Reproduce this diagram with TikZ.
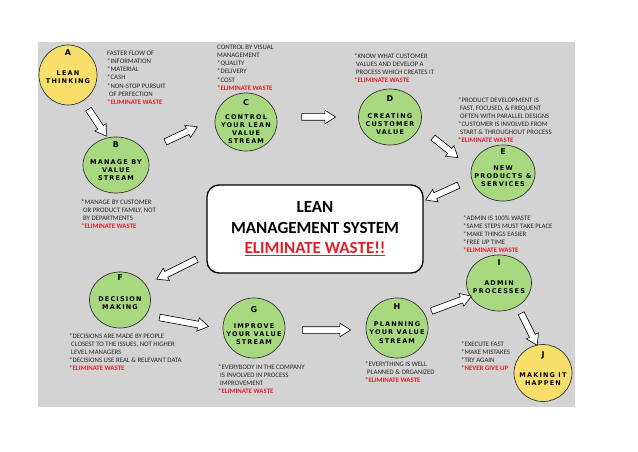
\documentclass[tikz,border=0pt]{standalone}
\usepackage{fontspec}
\setmainfont{Carlito}
\newfontfamily\ballfont[LetterSpace=18]{DejaVu Sans}
\usetikzlibrary{shapes.geometric,shapes.arrows,calc}

\definecolor{bggray}{HTML}{D3D3D3}
\definecolor{ballgreen}{HTML}{A8D880}
\definecolor{ballyellow}{HTML}{F8DF6C}
\definecolor{wastered}{HTML}{E3202A}

\newcommand{\waste}{\textcolor{wastered}{\bfseries *ELIMINATE WASTE}}
\newcommand{\ind}{\hspace*{2pt}}

\tikzset{
  ball/.style={ellipse, draw=black!80, line width=0.7pt, minimum width=62pt, minimum height=58pt, inner sep=0pt},
  greenball/.style={ball, fill=ballgreen},
  yellowball/.style={ball, fill=ballyellow},
  balletter/.style={font=\ballfont\bfseries\fontsize{8}{8}\selectfont, inner sep=0pt},
  balltext/.style={font=\ballfont\bfseries\fontsize{6.5}{8.2}\selectfont, align=center, inner sep=0pt},
  notes/.style={font=\fontsize{6.8}{8.1}\selectfont, align=left, anchor=north west, inner sep=0pt, text=black!85},
  blockarrow/.style={single arrow, draw=black, fill=white, line width=0.6pt, text height=6pt, text depth=0pt,
    single arrow head extend=3.5pt, single arrow tip angle=65, single arrow head indent=0pt, inner sep=0pt}
}

\begin{document}
\begin{tikzpicture}[x=1pt, y=-1pt]
  \useasboundingbox (0,0) rectangle (638,452);
  \fill[bggray] (38,42) rectangle (575,407);

  % centre box
  \node[draw, line width=1.3pt, rounded corners=12pt, fill=white, minimum width=216pt, minimum height=88pt,
    align=center, font=\bfseries\fontsize{17}{20.5}\selectfont] (lms) at (315,229)
    {LEAN\\MANAGEMENT SYSTEM\\\textcolor{wastered}{\underline{ELIMINATE WASTE!!}}};

  % the ten balls
  \node[yellowball, minimum width=58pt, minimum height=60pt] (A) at (68,75) {};
  \node[greenball, minimum width=66pt, minimum height=56pt] (B) at (116,165) {};
  \node[greenball] (C) at (246,122) {};
  \node[greenball, minimum width=63pt, minimum height=56pt] (D) at (390,117) {};
  \node[greenball, minimum width=64pt, minimum height=56pt] (E) at (503,173) {};
  \node[greenball, minimum width=61pt, minimum height=56pt] (F) at (120,300) {};
  \node[greenball, minimum height=60pt] (G) at (254,328) {};
  \node[greenball, minimum height=60pt] (H) at (397,328) {};
  \node[greenball, minimum width=65pt, minimum height=56pt] (I) at (499,283) {};
  \node[yellowball, minimum width=58pt, minimum height=57pt] (J) at (543,373) {};

  \node[balletter] (Al) at (68,53) {A};
  \node[balltext] (At) at (68,77.5) {LEAN\\THINKING};
  \node[balletter] (Bl) at (116,145) {B};
  \node[balltext] (Bt) at (116,170) {MANAGE BY\\VALUE\\STREAM};
  \node[balletter] (Cl) at (246,103) {C};
  \node[balltext] (Ct) at (246,129) {CONTROL\\YOUR LEAN\\VALUE\\STREAM};
  \node[balletter] (Dl) at (390,99) {D};
  \node[balltext] (Dt) at (390,124) {CREATING\\CUSTOMER\\VALUE};
  \node[balletter] (El) at (503,152) {E};
  \node[balltext] (Et) at (503,176) {NEW\\PRODUCTS \&\\SERVICES};
  \node[balletter] (Fl) at (120,278) {F};
  \node[balltext] (Ft) at (120,303) {DECISION\\MAKING};
  \node[balletter] (Gl) at (254,310) {G};
  \node[balltext] (Gt) at (254,334) {IMPROVE\\YOUR VALUE\\STREAM};
  \node[balletter] (Hl) at (397,307) {H};
  \node[balltext] (Ht) at (397,332.5) {PLANNING\\YOUR VALUE\\STREAM};
  \node[balletter] (Il) at (499,263) {I};
  \node[balltext] (It) at (499,287) {ADMIN\\PROCESSES};
  \node[balletter] (Jl) at (543,355) {J};
  \node[balltext] (Jt) at (543,379) {MAKING IT\\HAPPEN};

  % notes
  \node[notes] (nA) at (107,51) {FASTER FLOW OF\\*INFORMATION\\*MATERIAL\\*CASH\\*NON-STOP PURSUIT\\\ind OF PERFECTION\\\waste};
  \node[notes] (nB) at (81,199) {*MANAGE  BY CUSTOMER\\\ind OR PRODUCT FAMILY, NOT\\\ind BY DEPARTMENTS\\\waste};
  \node[notes] (nC) at (217,45) {CONTROL BY VISUAL\\MANAGEMENT\\*QUALITY\\*DELIVERY\\*COST\\\waste};
  \node[notes] (nD) at (354,53) {*KNOW WHAT CUSTOMER\\\ind VALUES AND DEVELOP A\\\ind PROCESS WHICH CREATES IT\\\waste};
  \node[notes] (nE) at (458,97) {*PRODUCT DEVELOPMENT IS\\\ind FAST, FOCUSED, \& FREQUENT\\\ind OFTEN WITH PARALLEL DESIGNS\\*CUSTOMER IS INVOLVED FROM\\\ind START \& THROUGHOUT PROCESS\\\waste};
  \node[notes] (nI) at (463,215) {*ADMIN IS 100\% WASTE\\*SAME STEPS MUST TAKE PLACE\\*MAKE THINGS EASIER\\*FREE UP TIME\\\waste};
  \node[notes] (nF) at (69,333) {*DECISIONS ARE MADE BY PEOPLE\\\ind CLOSEST TO THE ISSUES, NOT HIGHER\\\ind LEVEL MANAGERS\\*DECISIONS USE REAL \& RELEVANT DATA\\\waste};
  \node[notes] (nG) at (218,364) {*EVERYBODY IN THE COMPANY\\\ind IS INVOLVED IN PROCESS\\\ind IMPROVEMENT\\\waste};
  \node[notes] (nH) at (365,361) {*EVERYTHING IS WELL\\\ind PLANNED \& ORGANIZED\\\waste};
  \node[notes] (nJ) at (461,341) {*EXECUTE FAST\\*MAKE MISTAKES\\*TRY AGAIN\\\textcolor{wastered}{\bfseries *NEVER GIVE UP}};

  % arrow ends
  \coordinate (AB1) at (87,107);   \coordinate (AB2) at (105,134);
  \coordinate (BC1) at (163,143);  \coordinate (BC2) at (195,128);
  \coordinate (CD1) at (299,117);  \coordinate (CD2) at (333,117);
  \coordinate (DE1) at (431,136);  \coordinate (DE2) at (456,156);
  \coordinate (EL1) at (461,184);  \coordinate (EL2) at (428,199);
  \coordinate (LF1) at (199,258);  \coordinate (LF2) at (159,278);
  \coordinate (FG1) at (157,317);  \coordinate (FG2) at (206,326);
  \coordinate (GH1) at (300,330);  \coordinate (GH2) at (348,330);
  \coordinate (HI1) at (429,312);  \coordinate (HI2) at (469,297);
  \coordinate (IJ1) at (520,311);  \coordinate (IJ2) at (536,343);

  \foreach \s/\e in {AB1/AB2, BC1/BC2, CD1/CD2, DE1/DE2, EL1/EL2, LF1/LF2, FG1/FG2, GH1/GH2, HI1/HI2, IJ1/IJ2} {
    \path let \p1=(\s), \p2=(\e), \n1={atan2(\y2-\y1,\x2-\x1)}, \n2={veclen(\x2-\x1,\y2-\y1)} in
      node[blockarrow, minimum height=\n2, rotate=\n1] at ($(\s)!0.5!(\e)$) {};
  }
\end{tikzpicture}
\end{document}
